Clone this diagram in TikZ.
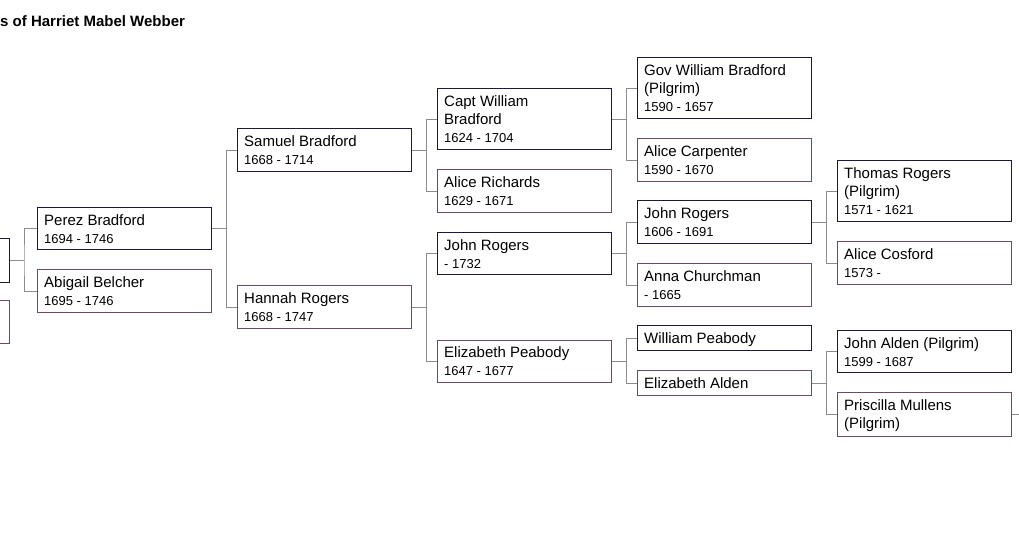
\documentclass[tikz,border=0pt]{standalone}
\usepackage{fontspec}
\setmainfont{Liberation Sans}
\usetikzlibrary{calc}
\definecolor{male}{HTML}{1A1A40}
\definecolor{fem}{HTML}{6A4A66}
\definecolor{lnk}{HTML}{8C8C8C}
\tikzset{
  pbox/.style={draw=#1, line width=0.9pt, minimum width=174pt, anchor=north west, inner sep=0pt, fill=white},
  nm/.style={anchor=base west, inner sep=0pt, font=\fontsize{15}{18}\selectfont},
  dt/.style={anchor=base west, inner sep=0pt, font=\fontsize{13}{16}\selectfont},
  conn/.style={draw=lnk, line width=0.8pt}
}
\newcommand{\bx}[5]{\node[pbox=#5, minimum height=#4pt] (#1) at (#2,#3) {};}
\newcommand{\famlink}[4]{%
  \coordinate (#4) at ($(#1.east)+(14,0)$);
  \draw[conn] (#1.east) -- (#4);
  \draw[conn] (#2.west) -| (#4) |- (#3.west);}
\begin{document}
\begin{tikzpicture}[x=1pt,y=-1pt]
\useasboundingbox (0,0) rectangle (1019,535);
\clip (0,0) rectangle (1019,535);
\node[anchor=base west, inner sep=0pt, font=\bfseries\fontsize{15}{18}\selectfont] (title) at (0,27) {s of Harriet Mabel Webber};
% partial left
\node[draw=male, line width=0.9pt, minimum width=60pt, minimum height=44pt, anchor=north east, inner sep=0pt] (hm) at (10,238) {};
\node[draw=fem, line width=0.9pt, minimum width=60pt, minimum height=43pt, anchor=north east, inner sep=0pt] (hf) at (10,300) {};
% generation 1
\bx{perez}{37}{207}{42}{male}
\node[nm] (perez1) at (44,225) {Perez Bradford};
\node[dt] (perez2) at (44,243) {1694 - 1746};
\bx{abig}{37}{269}{43}{fem}
\node[nm] (abig1) at (44,287) {Abigail Belcher};
\node[dt] (abig2) at (44,305) {1695 - 1746};
% generation 2
\bx{sam}{237}{128}{43}{male}
\node[nm] (sam1) at (244,146) {Samuel Bradford};
\node[dt] (sam2) at (244,164) {1668 - 1714};
\bx{hann}{237}{285}{43}{fem}
\node[nm] (hann1) at (244,303) {Hannah Rogers};
\node[dt] (hann2) at (244,321) {1668 - 1747};
% generation 3
\bx{capt}{437}{88}{61}{male}
\node[nm] (capt1) at (444,106) {Capt William};
\node[nm] (capt2) at (444,124) {Bradford};
\node[dt] (capt3) at (444,142) {1624 - 1704};
\bx{alr}{437}{169}{43}{fem}
\node[nm] (alr1) at (444,187) {Alice Richards};
\node[dt] (alr2) at (444,205) {1629 - 1671};
\bx{jr}{437}{232}{42}{male}
\node[nm] (jr1) at (444,250) {John Rogers};
\node[dt] (jr2) at (444,268) {- 1732};
\bx{ep}{437}{340}{42}{fem}
\node[nm] (ep1) at (444,357) {Elizabeth Peabody};
\node[dt] (ep2) at (444,375) {1647 - 1677};
% generation 4
\bx{gov}{637}{57}{61}{male}
\node[nm] (gov1) at (644,75) {Gov William Bradford};
\node[nm] (gov2) at (644,93) {(Pilgrim)};
\node[dt] (gov3) at (644,111) {1590 - 1657};
\bx{alc}{637}{138}{43}{fem}
\node[nm] (alc1) at (644,156) {Alice Carpenter};
\node[dt] (alc2) at (644,174) {1590 - 1670};
\bx{jr4}{637}{200}{43}{male}
\node[nm] (jr41) at (644,218) {John Rogers};
\node[dt] (jr42) at (644,236) {1606 - 1691};
\bx{anna}{637}{263}{43}{fem}
\node[nm] (anna1) at (644,281) {Anna Churchman};
\node[dt] (anna2) at (644,299) {- 1665};
\bx{wp}{637}{325}{25}{male}
\node[nm] (wp1) at (644,343) {William Peabody};
\bx{ea}{637}{370}{25}{fem}
\node[nm] (ea1) at (644,388) {Elizabeth Alden};
% generation 5
\bx{tr}{837}{160}{61}{male}
\node[nm] (tr1) at (844,178) {Thomas Rogers};
\node[nm] (tr2) at (844,196) {(Pilgrim)};
\node[dt] (tr3) at (844,214) {1571 - 1621};
\bx{acos}{837}{241}{43}{fem}
\node[nm] (acos1) at (844,259) {Alice Cosford};
\node[dt] (acos2) at (844,277) {1573 -};
\bx{ja}{837}{330}{42}{male}
\node[nm] (ja1) at (844,348) {John Alden (Pilgrim)};
\node[dt] (ja2) at (844,366) {1599 - 1687};
\bx{pm}{837}{392}{44}{fem}
\node[nm] (pm1) at (844,410) {Priscilla Mullens};
\node[nm] (pm2) at (844,428) {(Pilgrim)};
% connectors
\famlink{hm}{perez}{abig}{j0}
\famlink{perez}{sam}{hann}{j1}
\famlink{sam}{capt}{alr}{j2}
\famlink{hann}{jr}{ep}{j3}
\famlink{capt}{gov}{alc}{j4}
\famlink{jr}{jr4}{anna}{j5}
\famlink{ep}{wp}{ea}{j6}
\famlink{jr4}{tr}{acos}{j7}
\famlink{ea}{ja}{pm}{j8}
\coordinate (pmr) at ($(pm.east)+(14,0)$);
\draw[conn] (pm.east) -- (pmr);
\end{tikzpicture}
\end{document}
